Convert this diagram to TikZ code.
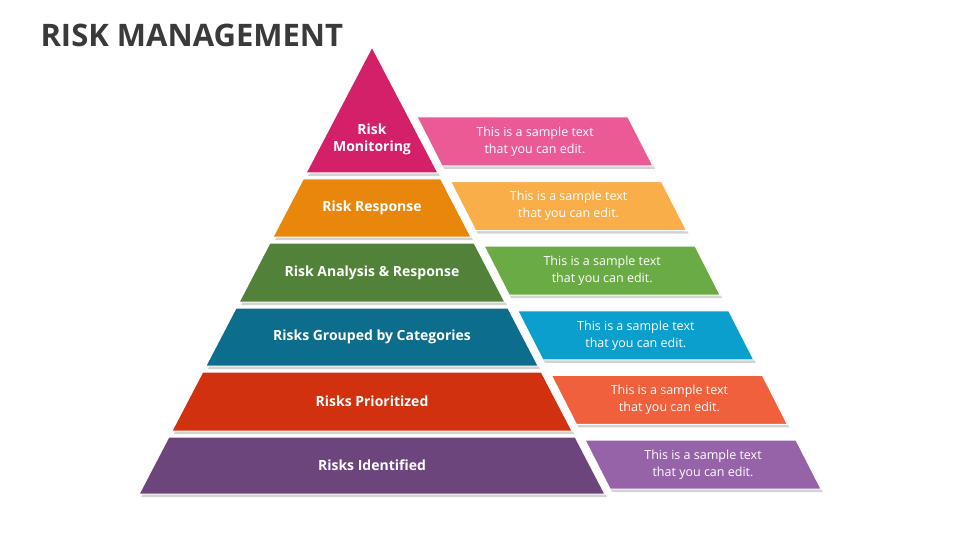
\documentclass[tikz,border=0pt]{standalone}
\usepackage{fontspec}
\setmainfont{Open Sans}
\usetikzlibrary{shadows}
\definecolor{titlegray}{HTML}{3A3A3A}
\definecolor{darkA}{HTML}{D41F69}\definecolor{lightA}{HTML}{EA5B96}
\definecolor{darkB}{HTML}{E8870B}\definecolor{lightB}{HTML}{F9AE4A}
\definecolor{darkC}{HTML}{52823A}\definecolor{lightC}{HTML}{6BAB45}
\definecolor{darkD}{HTML}{0D6D8C}\definecolor{lightD}{HTML}{0A9FCD}
\definecolor{darkE}{HTML}{D1310F}\definecolor{lightE}{HTML}{F0603C}
\definecolor{darkF}{HTML}{6D457D}\definecolor{lightF}{HTML}{9662A8}
\tikzset{
  layer/.style={draw=white, line width=1pt, drop shadow={shadow xshift=2pt, shadow yshift=-3pt, opacity=0.35}},
  layertext/.style={text=white, font=\bfseries\fontsize{14}{17}\selectfont, align=center},
  sidetext/.style={text=white, font=\fontsize{12.5}{17}\selectfont, align=center}
}
\begin{document}
\begin{tikzpicture}[x=1pt,y=-1pt]
  \useasboundingbox (0,0) rectangle (960,540);
  \node (title) [anchor=west, text=titlegray, font=\bfseries\fontsize{31}{36}\selectfont] at (37,35) {RISK MANAGEMENT};
  % pyramid top
  \path[layer, fill=darkA] (372,47) -- (438,173) -- (306,173) -- cycle;
  \node (layer1) [layertext] at (372,139) {Risk\\Monitoring};
  % pyramid layers
  \foreach \i/\ytop/\ybot/\col/\txt in {2/179/237/darkB/Risk Response,
      3/243/302/darkC/Risk Analysis \& Response,
      4/308/366/darkD/Risks Grouped by Categories,
      5/372/431/darkE/Risks Prioritized,
      6/437/494/darkF/Risks Identified}{
    \pgfmathsetmacro{\tl}{372-0.521*(\ytop-47)}
    \pgfmathsetmacro{\tr}{372+0.521*(\ytop-47)}
    \pgfmathsetmacro{\bl}{372-0.521*(\ybot-47)}
    \pgfmathsetmacro{\br}{372+0.521*(\ybot-47)}
    \path[layer, fill=\col] (\tl,\ytop) -- (\tr,\ytop) -- (\br,\ybot) -- (\bl,\ybot) -- cycle;
    \node (layer\i) [layertext] at (372,{(\ytop+\ybot)/2}) {\txt};
  }
  % side boxes
  \foreach \i/\col in {1/lightA,2/lightB,3/lightC,4/lightD,5/lightE,6/lightF}{
    \pgfmathsetmacro{\x}{417+33.6*(\i-1)}
    \pgfmathsetmacro{\y}{117+64.6*(\i-1)}
    \path[layer, fill=\col] (\x,\y) -- ++(211,0) -- ++(25,49) -- ++(-211,0) -- cycle;
    \node (side\i) [sidetext] at ({\x+118},{\y+24.5}) {This is a sample text\\that you can edit.};
  }
\end{tikzpicture}
\end{document}
